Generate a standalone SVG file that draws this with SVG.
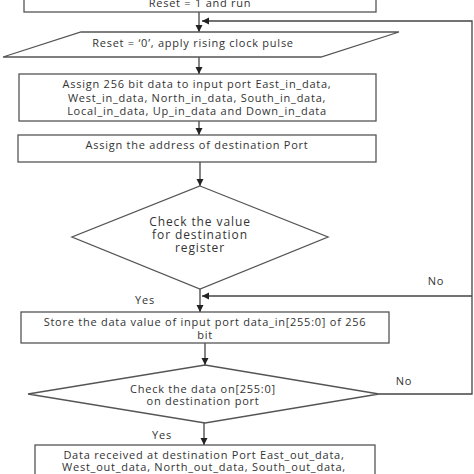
<svg xmlns="http://www.w3.org/2000/svg" width="474" height="474" viewBox="0 0 474 474">
<style>
.s{fill:#fff;stroke:#555;stroke-width:1.3}
.c{fill:none;stroke:#444;stroke-width:1.3}
.t{font-family:"Open Sans","Liberation Sans",Arial,sans-serif;font-size:11px;letter-spacing:0.75px;fill:#333;text-anchor:middle}
.d{font-size:12px;letter-spacing:0.9px}
</style>
<defs>
<marker id="a" markerWidth="8" markerHeight="8" refX="7" refY="4" orient="auto" markerUnits="userSpaceOnUse">
<path d="M0,0.5 L7,4 L0,7.5 Z" fill="#222"/>
</marker>
</defs>
<rect width="474" height="474" fill="#fff"/>
<g id="connectors">
<line class="c" x1="199" y1="12" x2="199" y2="32" marker-end="url(#a)"/>
<polyline class="c" points="379,394 472,394 472,21 202,21" marker-end="url(#a)"/>
<line class="c" x1="472" y1="296" x2="202" y2="296" marker-end="url(#a)"/>
<line class="c" x1="199" y1="57" x2="199" y2="74" marker-end="url(#a)"/>
<line class="c" x1="199" y1="121" x2="199" y2="135" marker-end="url(#a)"/>
<line class="c" x1="200" y1="162" x2="200" y2="186" marker-end="url(#a)"/>
<line class="c" x1="200" y1="289" x2="200" y2="312" marker-end="url(#a)"/>
<line class="c" x1="205" y1="343" x2="205" y2="365" marker-end="url(#a)"/>
<line class="c" x1="204" y1="423" x2="204" y2="445" marker-end="url(#a)"/>
<text class="t" x="436" y="285">No</text>
<text class="t" x="404" y="385">No</text>
<text class="t" x="145" y="304">Yes</text>
<text class="t" x="162" y="439">Yes</text>
</g>
<g id="start">
<rect class="s" x="24" y="-20" width="352" height="32"/>
<text class="t" x="200" y="7">Reset = 1 and run</text>
</g>
<g id="reset">
<polygon class="s" points="81,32 399,32 321,57 3,57"/>
<text class="t" x="193" y="47">Reset = ‘0’, apply rising clock pulse</text>
</g>
<g id="assign-data">
<rect class="s" x="19" y="74" width="357" height="47"/>
<text class="t" x="197" y="88">Assign 256 bit data to input port East_in_data,</text>
<text class="t" x="197" y="102">West_in_data, North_in_data, South_in_data,</text>
<text class="t" x="197" y="115">Local_in_data, Up_in_data and Down_in_data</text>
</g>
<g id="assign-address">
<rect class="s" x="18" y="135" width="358" height="27"/>
<text class="t" x="197" y="149">Assign the address of destination Port</text>
</g>
<g id="check-dest">
<polygon class="s" points="200,186 328,237 200,289 72,237"/>
<text class="t d" x="200" y="226">Check the value</text>
<text class="t d" x="200" y="239">for destination</text>
<text class="t d" x="200" y="252">register</text>
</g>
<g id="store">
<rect class="s" x="21" y="312" width="368" height="31"/>
<text class="t" x="205" y="326">Store the data value  of input port data_in[255:0] of 256</text>
<text class="t" x="205" y="339">bit</text>
</g>
<g id="check-data">
<polygon class="s" points="205,365 379,394 205,423 28,394"/>
<text class="t" x="203" y="393">Check the data on[255:0]</text>
<text class="t" x="203" y="405">on destination port</text>
</g>
<g id="received">
<rect class="s" x="35" y="445" width="340" height="40"/>
<text class="t" x="204" y="459">Data received at destination Port East_out_data,</text>
<text class="t" x="204" y="471">West_out_data, North_out_data, South_out_data,</text>
</g>
</svg>
